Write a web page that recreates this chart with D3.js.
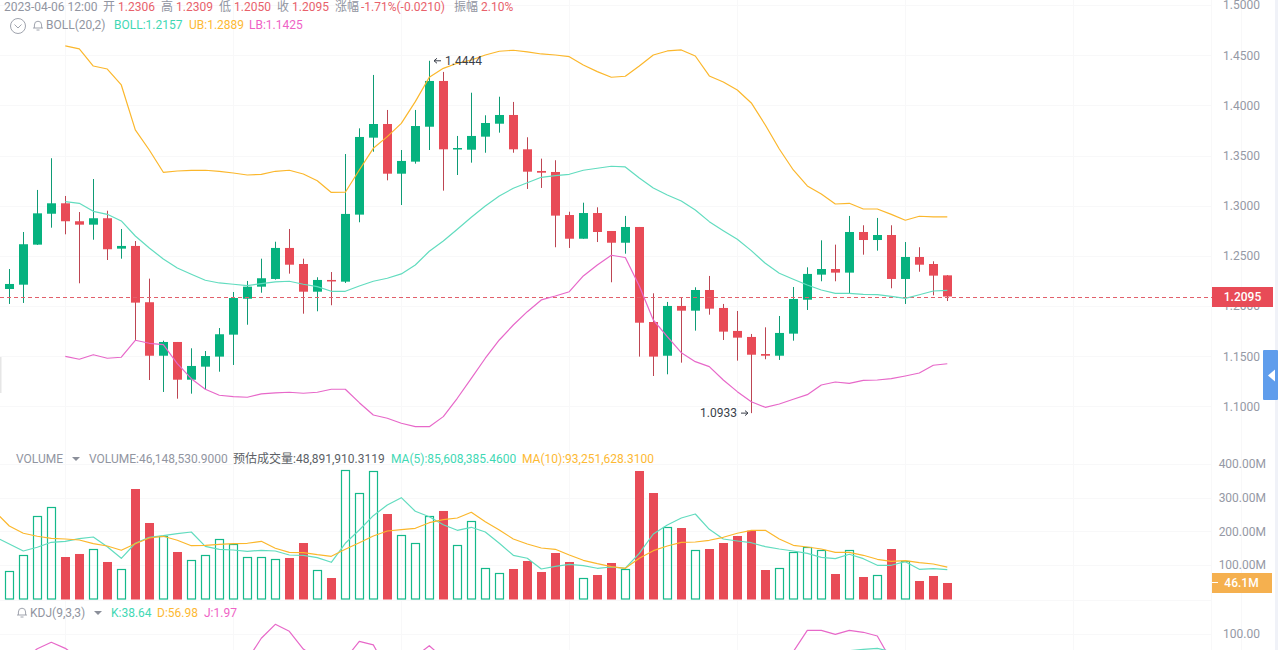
<!DOCTYPE html>
<html><head><meta charset="utf-8">
<script src="https://cdn.jsdelivr.net/npm/d3@7"></script>
<style>
html,body{margin:0;padding:0;background:#fff;overflow:hidden}
svg{display:block}
text{font-family:Roboto,"Noto Sans CJK SC",sans-serif;font-size:12px}
</style></head><body>
<svg id="c" width="1278" height="650"></svg>
<script>
const opens=[1.2170,1.2213,1.2612,1.2920,1.3024,1.2845,1.2811,1.2875,1.2572,1.2599,1.2038,1.1505,1.1642,1.1266,1.1396,1.1496,1.1715,1.2073,1.2193,1.2270,1.2579,1.2419,1.2143,1.2260,1.2243,1.2911,1.3678,1.3814,1.3319,1.3439,1.3787,1.4243,1.3562,1.3558,1.3688,1.3817,1.3904,1.3562,1.3346,1.3336,1.2907,1.2671,1.2927,1.2748,1.2631,1.2788,1.1841,1.1505,1.2001,1.1954,1.2160,1.1981,1.1752,1.1692,1.1522,1.1505,1.1725,1.2063,1.2313,1.2369,1.2333,1.2738,1.2658,1.2708,1.2270,1.2489,1.2419,1.2306];
const highs=[1.2369,1.2738,1.3157,1.3473,1.3097,1.2937,1.3266,1.2950,1.2768,1.2648,1.2273,1.1655,1.1642,1.1579,1.1552,1.1781,1.2140,1.2250,1.2472,1.2641,1.2768,1.2472,1.2287,1.2339,1.3515,1.3771,1.4303,1.3954,1.3555,1.3954,1.4444,1.4333,1.3695,1.4126,1.3901,1.4086,1.4034,1.3682,1.3469,1.3453,1.2940,1.3030,1.2984,1.2748,1.2898,1.2788,1.2127,1.2041,1.2087,1.2187,1.2300,1.2021,1.1951,1.1722,1.1788,1.1901,1.2190,1.2386,1.2655,1.2612,1.2898,1.2805,1.2878,1.2805,1.2638,1.2586,1.2446,1.2309];
const lows=[1.2021,1.2031,1.2609,1.2781,1.2715,1.2227,1.2661,1.2459,1.2472,1.1655,1.1263,1.1144,1.1077,1.1127,1.1171,1.1346,1.1413,1.1814,1.2133,1.2263,1.2323,1.1924,1.1948,1.2008,1.2230,1.2835,1.3538,1.3253,1.3007,1.3419,1.3555,1.3150,1.3306,1.3429,1.3528,1.3728,1.3528,1.3167,1.3177,1.2586,1.2579,1.2671,1.2638,1.2237,1.2522,1.1496,1.1303,1.1320,1.1436,1.1755,1.1914,1.1662,1.1456,1.0933,1.1470,1.1463,1.1655,1.1961,1.2247,1.2247,1.2127,1.2512,1.2552,1.2177,1.2021,1.2342,1.2107,1.2050];
const closes=[1.2220,1.2616,1.2924,1.3024,1.2845,1.2811,1.2875,1.2566,1.2599,1.2034,1.1505,1.1642,1.1266,1.1403,1.1502,1.1719,1.2080,1.2193,1.2277,1.2579,1.2412,1.2143,1.2260,1.2247,1.2918,1.3685,1.3814,1.3319,1.3446,1.3794,1.4243,1.3562,1.3575,1.3695,1.3824,1.3904,1.3562,1.3339,1.3329,1.2901,1.2671,1.2927,1.2738,1.2631,1.2788,1.1834,1.1496,1.2001,1.1954,1.2160,1.1974,1.1745,1.1685,1.1515,1.1505,1.1732,1.2070,1.2320,1.2369,1.2333,1.2738,1.2658,1.2708,1.2270,1.2489,1.2412,1.2303,1.2095];
const bollFirstIndex=4;
const bollMid=[1.3040,1.3024,1.2944,1.2914,1.2848,1.2698,1.2579,1.2469,1.2379,1.2317,1.2257,1.2230,1.2217,1.2203,1.2223,1.2240,1.2247,1.2217,1.2193,1.2147,1.2147,1.2200,1.2247,1.2277,1.2320,1.2409,1.2546,1.2648,1.2765,1.2885,1.2997,1.3097,1.3174,1.3229,1.3283,1.3299,1.3313,1.3353,1.3373,1.3393,1.3386,1.3276,1.3177,1.3107,1.3047,1.2957,1.2841,1.2751,1.2665,1.2552,1.2426,1.2327,1.2267,1.2210,1.2160,1.2127,1.2127,1.2117,1.2113,1.2097,1.2077,1.2113,1.2150,1.2157];
const bollUp=[1.4592,1.4562,1.4392,1.4362,1.4203,1.3755,1.3555,1.3333,1.3346,1.3353,1.3353,1.3343,1.3326,1.3306,1.3313,1.3343,1.3353,1.3316,1.3249,1.3132,1.3134,1.3356,1.3572,1.3688,1.3821,1.4037,1.4280,1.4369,1.4419,1.4452,1.4502,1.4539,1.4549,1.4532,1.4512,1.4502,1.4485,1.4402,1.4336,1.4280,1.4290,1.4392,1.4502,1.4542,1.4552,1.4492,1.4293,1.4233,1.4153,1.4024,1.3804,1.3565,1.3356,1.3197,1.3117,1.3017,1.3024,1.2967,1.2967,1.2914,1.2855,1.2895,1.2888,1.2889];
const bollLow=[1.1499,1.1470,1.1515,1.1480,1.1490,1.1659,1.1629,1.1615,1.1426,1.1276,1.1171,1.1111,1.1097,1.1091,1.1124,1.1134,1.1141,1.1131,1.1141,1.1171,1.1171,1.1037,1.0914,1.0882,1.0832,1.0798,1.0798,1.0898,1.1081,1.1280,1.1480,1.1662,1.1811,1.1944,1.2061,1.2100,1.2143,1.2300,1.2409,1.2506,1.2484,1.2200,1.1861,1.1695,1.1535,1.1446,1.1396,1.1263,1.1147,1.1047,1.0991,1.1024,1.1071,1.1117,1.1213,1.1243,1.1230,1.1260,1.1263,1.1276,1.1303,1.1333,1.1410,1.1425];
const volumes=[80.8,128.4,244.3,271.0,123.3,132.3,146.2,108.5,86.8,325.4,224.4,184.9,138.2,113.5,128.4,175.9,162.0,122.4,122.4,116.5,120.4,164.9,83.8,60.9,381.0,312.7,378.0,251.1,187.8,164.1,244.3,260.1,158.1,229.4,89.8,74.9,87.7,111.5,78.8,135.2,108.5,60.0,69.8,105.5,86.8,378.9,313.5,211.6,209.5,143.3,147.1,164.9,185.8,201.5,84.7,89.8,138.2,152.2,144.1,72.8,143.3,63.9,69.0,147.1,110.6,52.0,66.9,46.1];
const volMa5=[182.8,162.0,141.2,152.2,167.0,170.0,177.7,182.8,154.0,119.5,164.1,181.9,186.6,192.6,197.6,155.1,146.2,144.1,140.3,143.3,141.2,129.3,128.4,121.3,107.6,164.1,203.6,246.1,277.9,299.6,259.2,243.1,219.3,202.7,211.6,197.6,164.1,128.4,119.5,87.7,95.7,101.6,97.5,89.8,93.6,89.8,134.3,191.7,218.4,239.2,251.1,205.7,176.8,170.9,165.8,154.0,147.1,141.2,134.3,122.4,118.3,131.4,118.3,98.7,98.7,109.4,86.8,88.6,85.6];
const volMa10=[257.1,215.5,193.8,184.9,178.9,176.8,173.9,162.9,156.0,143.3,162.9,179.8,184.9,173.0,156.9,158.1,161.1,162.9,164.1,170.0,149.2,137.3,136.1,130.2,125.4,146.2,165.8,185.8,200.6,204.5,208.6,225.3,234.2,239.2,256.2,228.2,203.6,176.8,162.0,150.1,146.2,129.3,113.5,103.4,94.5,89.8,119.5,142.1,156.0,167.0,167.9,173.0,181.9,193.8,202.7,202.7,176.8,158.1,153.1,147.1,137.3,137.3,128.4,116.5,110.6,112.3,106.4,102.5,93.25];
const kdjJ=[40,52,72.4,84,73,55,42,35,30,28,26,24,22,25,30,35,42,52,91.3,116.7,104,71.8,55,53,53.6,85.8,79.3,33.6,40,58,77.8,55,45,40,38,35,30,25,20,15,12,10,12,15,18,10,5,8,10,12,15,18,20,25,30,45,67,105.8,105.8,98.5,105.8,102.2,95.5,50.5,40,30,15,1.97];
const kdjK=[40,45,55,60,58,52,45,40,35,32,30,28,26,27,30,33,38,45,55,62,62,58,52,48,45,52,58,52,50,52,58,55,50,46,44,42,38,34,30,26,22,20,20,22,24,20,18,18,20,20,22,24,26,28,30,36,45,55,62,64,68.7,71.3,73,67,60,52,45,38.64];
const priceTicks=[1.5,1.45,1.4,1.35,1.3,1.25,1.2,1.15,1.1];
const volumeTicks=[100,200,300,400];
const kdjTicks=[100];
const gridIndexes=[4,16,28,40,52,64,76,88];
const lastClose=1.2095, lastVolume=46.1, highIndex=30, lowIndex=53;
const headerA=[["2023-04-06 12:00",4,"g"],["开",103,"g"],["1.2306",118,"r"],["高",161,"g"],["1.2309",176,"r"],["低",219,"g"],["1.2050",234,"r"],["收",277,"g"],["1.2095",292,"r"],["涨幅",335,"g"],["-1.71%(-0.0210)",361,"r"],["振幅",454,"g"],["2.10%",481,"r"]];
const headerB=[["BOLL(20,2)",46,"g"],["BOLL:1.2157",114,"t"],["UB:1.2889",189,"y"],["LB:1.1425",249,"m"]];
const headerV=[["VOLUME",16,"g"],["VOLUME:46,148,530.9000",89,"g"],["预估成交量:48,891,910.3119",233,"d"],["MA(5):85,608,385.4600",391,"t"],["MA(10):93,251,628.3100",522,"y"]];
const headerK=[["KDJ(9,3,3)",30,"g"],["K:38.64",111,"t"],["D:56.98",157,"y"],["J:1.97",204,"m"]];

const UP="#06b27f",DOWN="#e84b57",UPW="#0e9b75",DOWNW="#bd4552",TEAL="#62dcbf",YEL="#fbb72c",MAG="#e768c9",AX="#9599a5",GRID="#f8f8f9";
const textCol={g:"#9195a1",r:"#e8616b",t:"#3fd8b4",y:"#fdb933",m:"#ef62c6",d:"#5c5f66"};
const svg=d3.select("#c");
const x=d3.scaleLinear().domain([0,67]).range([9.3,947.3]);
const yP=d3.scaleLinear().domain([1.1,1.5]).range([406.4,5]);
const yV=d3.scaleLinear().domain([0,400]).range([598.5,463.9]);
const yK=d3.scaleLinear().domain([0,100]).range([688.5,633.5]);
const px=i=>Math.round(x(i)-0.5)+0.5;

// grid
const g=svg.append("g").attr("stroke",GRID).attr("stroke-width",1);
gridIndexes.forEach(i=>g.append("line").attr("x1",px(i)).attr("x2",px(i)).attr("y1",0).attr("y2",650));
priceTicks.forEach(t=>g.append("line").attr("x1",0).attr("x2",1212).attr("y1",Math.round(yP(t))+.5).attr("y2",Math.round(yP(t))+.5));
volumeTicks.forEach(t=>g.append("line").attr("x1",0).attr("x2",1212).attr("y1",Math.round(yV(t))+.5).attr("y2",Math.round(yV(t))+.5));
kdjTicks.forEach(t=>g.append("line").attr("x1",0).attr("x2",1212).attr("y1",Math.round(yK(t))+.5).attr("y2",Math.round(yK(t))+.5));
g.append("line").attr("x1",1211.5).attr("x2",1211.5).attr("y1",0).attr("y2",650);
g.append("line").attr("x1",0).attr("x2",1212).attr("y1",600.5).attr("y2",600.5);
svg.append("rect").attr("x",1275).attr("y",0).attr("width",3).attr("height",650).attr("fill","#f0f2f8");
svg.append("rect").attr("x",0).attr("y",357).attr("width",1.5).attr("height",36).attr("fill","#e6e6e6");

// axes
function axis(scale,ticks,fmt,xpos){
  const a=svg.append("g").attr("transform",`translate(${xpos},0)`)
    .call(d3.axisLeft(scale).tickValues(ticks).tickFormat(fmt).tickSize(0).tickPadding(0));
  a.select(".domain").remove();
  a.selectAll("text").attr("fill",AX).style("font-size","12px").style("font-family","Roboto");
}
axis(yP,priceTicks,d3.format(".4f"),1260);
axis(yV,volumeTicks,d=>d3.format(".2f")(d)+"M",1266);
axis(yK,kdjTicks,d3.format(".2f"),1260);

// candles
const idx=d3.range(opens.length);
const bw=9;
const candles=svg.append("g");
candles.selectAll("rect.w").data(idx).join("rect").attr("class","w")
  .attr("x",i=>px(i)-0.5).attr("width",1)
  .attr("y",i=>yP(highs[i])).attr("height",i=>yP(lows[i])-yP(highs[i]))
  .attr("fill",i=>closes[i]>=opens[i]?UPW:DOWNW);
candles.selectAll("rect.b").data(idx).join("rect").attr("class","b")
  .attr("x",i=>px(i)-bw/2).attr("width",bw)
  .attr("y",i=>yP(Math.max(opens[i],closes[i])))
  .attr("height",i=>Math.max(1.5,Math.abs(yP(opens[i])-yP(closes[i]))))
  .attr("fill",i=>closes[i]>=opens[i]?UP:DOWN);

// current price line
svg.append("line").attr("x1",0).attr("x2",1212).attr("y1",Math.round(yP(lastClose))+.5).attr("y2",Math.round(yP(lastClose))+.5)
  .attr("stroke","#e2606b").attr("stroke-width",1).attr("stroke-dasharray","4,3");

// lines
function path(data,first,ys,col){
  svg.append("path").datum(data).attr("fill","none").attr("stroke",col).attr("stroke-width",1.2).attr("stroke-linejoin","round")
   .attr("d",d3.line().x((d,i)=>x(i+first)).y(d=>ys(d)));
}
path(bollMid,bollFirstIndex,yP,TEAL);
path(bollUp,bollFirstIndex,yP,YEL);
path(bollLow,bollFirstIndex,yP,MAG);

// volume
const vbase=599.5;
svg.append("g").selectAll("rect").data(idx).join("rect")
 .each(function(i){
   const up=closes[i]>=opens[i], s=d3.select(this), top=Math.round(yV(volumes[i]))+.5;
   if(up) s.attr("x",px(i)-4).attr("width",8).attr("y",top).attr("height",vbase-top-.5).attr("fill","none").attr("stroke","#14b98a").attr("stroke-width",1.2);
   else s.attr("x",px(i)-4.5).attr("width",9).attr("y",yV(volumes[i])).attr("height",vbase-yV(volumes[i])).attr("fill",DOWN);
 });
path(volMa5,-1,yV,TEAL);
path(volMa10,-1,yV,YEL);

// kdj
path(kdjJ,0,yK,MAG);
path(kdjK,0,yK,TEAL);

// labels
function label(rows,y){
  rows.forEach(r=>svg.append("text").attr("x",r[1]).attr("y",y).attr("fill",textCol[r[2]]).text(r[0]));
}
label(headerA,10.5);
label(headerB,29);
label(headerV,463);
label(headerK,617);

// header icons
svg.append("circle").attr("cx",18).attr("cy",26).attr("r",7.5).attr("fill","none").attr("stroke","#a0a4ae").attr("stroke-width",1);
svg.append("path").attr("d","M14.5 24.5 L18 28 L21.5 24.5").attr("fill","none").attr("stroke","#a0a4ae");
function bell(cx,cy){
  svg.append("path").attr("d",`M${cx-5} ${cy+3} h10 M${cx-3.6} ${cy+3} v-3 a3.6 3.8 0 0 1 7.2 0 v3 M${cx-1.5} ${cy+5} h3`)
    .attr("fill","none").attr("stroke","#a0a4ae").attr("stroke-width",1);
}
bell(38,25); bell(22,612);
function caret(cx,cy){svg.append("path").attr("d",`M${cx-4} ${cy-2} h8 l-4 4 z`).attr("fill","#8b8f9a");}
caret(76,459); caret(98,613);

// extremes
svg.append("text").attr("x",445).attr("y",yP(highs[highIndex])+4).attr("fill","#3a3f4a").text(d3.format(".4f")(highs[highIndex]));
svg.append("path").attr("d",`M441 ${yP(highs[highIndex])} h-7 m3 -2.5 l-3 2.5 l3 2.5`).attr("fill","none").attr("stroke","#3a3f4a");
svg.append("text").attr("x",700).attr("y",yP(lows[lowIndex])+3.5).attr("fill","#3a3f4a").text(d3.format(".4f")(lows[lowIndex]));
svg.append("path").attr("d",`M741 ${yP(lows[lowIndex])} h7 m-3 -2.5 l3 2.5 l-3 2.5`).attr("fill","none").attr("stroke","#3a3f4a");

// value boxes
svg.append("rect").attr("x",1212).attr("y",287).attr("width",61).attr("height",20).attr("fill","#e84b57");
svg.append("text").attr("x",1242.5).attr("y",301).attr("text-anchor","middle").attr("fill","#fff").attr("font-weight",500).text(d3.format(".4f")(lastClose));
svg.append("rect").attr("x",1212).attr("y",573).attr("width",60).attr("height",20).attr("fill","#f5b04f");
svg.append("text").attr("x",1241.5).attr("y",587).attr("text-anchor","middle").attr("fill","#fff").attr("font-weight",500).text(lastVolume.toFixed(1)+"M");
svg.append("line").attr("x1",1212).attr("x2",1218).attr("y1",582.5).attr("y2",582.5).attr("stroke","#fff");

// side tab
svg.append("rect").attr("x",1263).attr("y",350).attr("width",15).attr("height",50).attr("rx",1).attr("fill","#5f9dec");
svg.append("path").attr("d","M1275 369.5 v12 l-7 -6 z").attr("fill","#fff");
</script>
</body></html>
